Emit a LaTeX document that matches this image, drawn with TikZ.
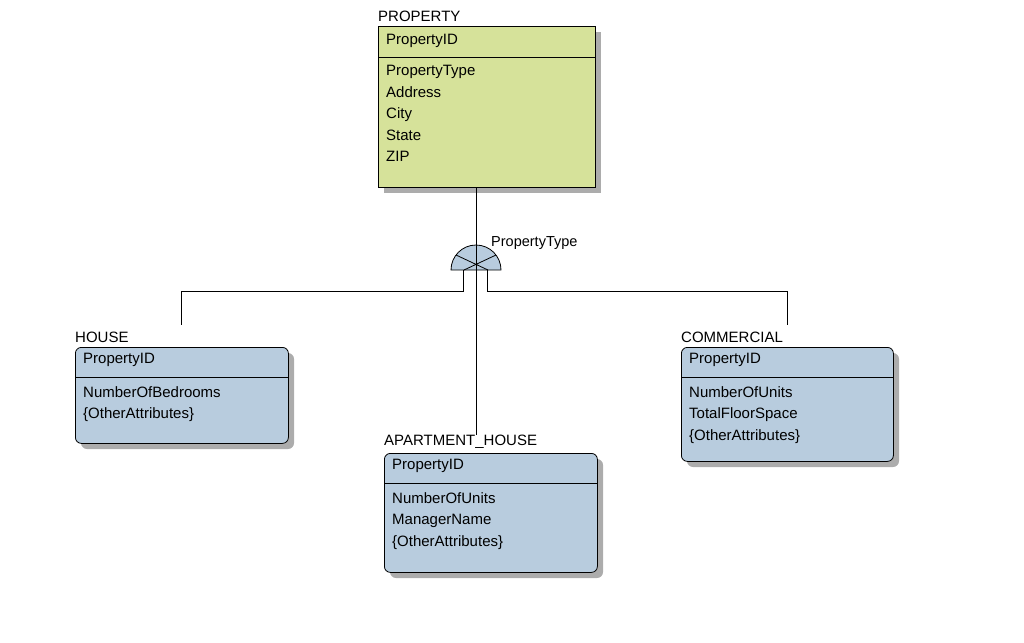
\documentclass[tikz,border=0pt]{standalone}
\usepackage{fontspec}
\setmainfont{Liberation Sans}
\usetikzlibrary{positioning}
\definecolor{propgreen}{RGB}{214,226,154}
\definecolor{subblue}{RGB}{184,204,222}
\tikzset{
  ent/.style={draw, line width=0.8pt, anchor=north west, inner sep=0pt},
  shadow/.style={fill=gray!65, draw=none},
  attr/.style={anchor=north west, align=left, inner sep=0pt, font=\fontsize{15}{21.5}\selectfont},
  ttl/.style={anchor=south west, inner sep=0pt, font=\fontsize{15}{18}\selectfont},
  conn/.style={line width=0.8pt}
}
\begin{document}
\begin{tikzpicture}[x=1pt,y=-1pt]
\useasboundingbox (0,0) rectangle (1024,642);
% PROPERTY
\fill[shadow] (384,32) rectangle (601,193);
\node[ent, fill=propgreen, minimum width=217pt, minimum height=161pt] (prop) at (378,26) {};
\draw[conn] (378,57) -- (595,57);
\node[ttl] (propT) at (378,22) {PROPERTY};
\node[attr] (propK) at (386,34) {PropertyID};
\node[attr] (propA) at (386,65) {PropertyType\\Address\\City\\State\\ZIP};
% HOUSE
\fill[shadow, rounded corners=6pt] (81,353) rectangle (294,449);
\node[ent, fill=subblue, rounded corners=6pt, minimum width=213pt, minimum height=96pt] (house) at (75,347) {};
\draw[conn] (75,377) -- (288,377);
\node[ttl] (houseT) at (75,343) {HOUSE};
\node[attr] (houseK) at (83,353) {PropertyID};
\node[attr] (houseA) at (83,386) {NumberOfBedrooms\\\{OtherAttributes\}};
% APARTMENT_HOUSE
\fill[shadow, rounded corners=6pt] (390,459) rectangle (603,578);
\node[ent, fill=subblue, rounded corners=6pt, minimum width=213pt, minimum height=119pt] (apt) at (384,453) {};
\draw[conn] (384,483) -- (597,483);
\node[ttl] (aptT) at (384,449) {APARTMENT\_HOUSE};
\node[attr] (aptK) at (392,459) {PropertyID};
\node[attr] (aptA) at (392,492) {NumberOfUnits\\ManagerName\\\{OtherAttributes\}};
% COMMERCIAL
\fill[shadow, rounded corners=6pt] (687,353) rectangle (899,467);
\node[ent, fill=subblue, rounded corners=6pt, minimum width=212pt, minimum height=114pt] (comm) at (681,347) {};
\draw[conn] (681,377) -- (893,377);
\node[ttl] (commT) at (681,343) {COMMERCIAL};
\node[attr] (commK) at (689,353) {PropertyID};
\node[attr] (commA) at (689,386) {NumberOfUnits\\TotalFloorSpace\\\{OtherAttributes\}};
% category symbol
\coordinate (cat) at (476,270);
\filldraw[conn, fill=subblue] (451,270) arc[start angle=180, end angle=0, radius=25pt] -- cycle;
\draw[conn] (456,255) -- (488,270) (496,255) -- (464,270);
\node[anchor=west, inner sep=0pt, font=\fontsize{14.5}{16}\selectfont] (catL) at (491,243) {PropertyType};
\draw[conn] (prop.south -| cat) -- ([yshift=-25pt]cat);
\draw[conn] (cat) -- (cat |- aptT.north);
\draw[conn] ([xshift=-13pt]cat) |- (181,291) -- (181,325);
\draw[conn] ([xshift=11pt]cat) |- (787,291) -- (787,325);
\end{tikzpicture}
\end{document}
